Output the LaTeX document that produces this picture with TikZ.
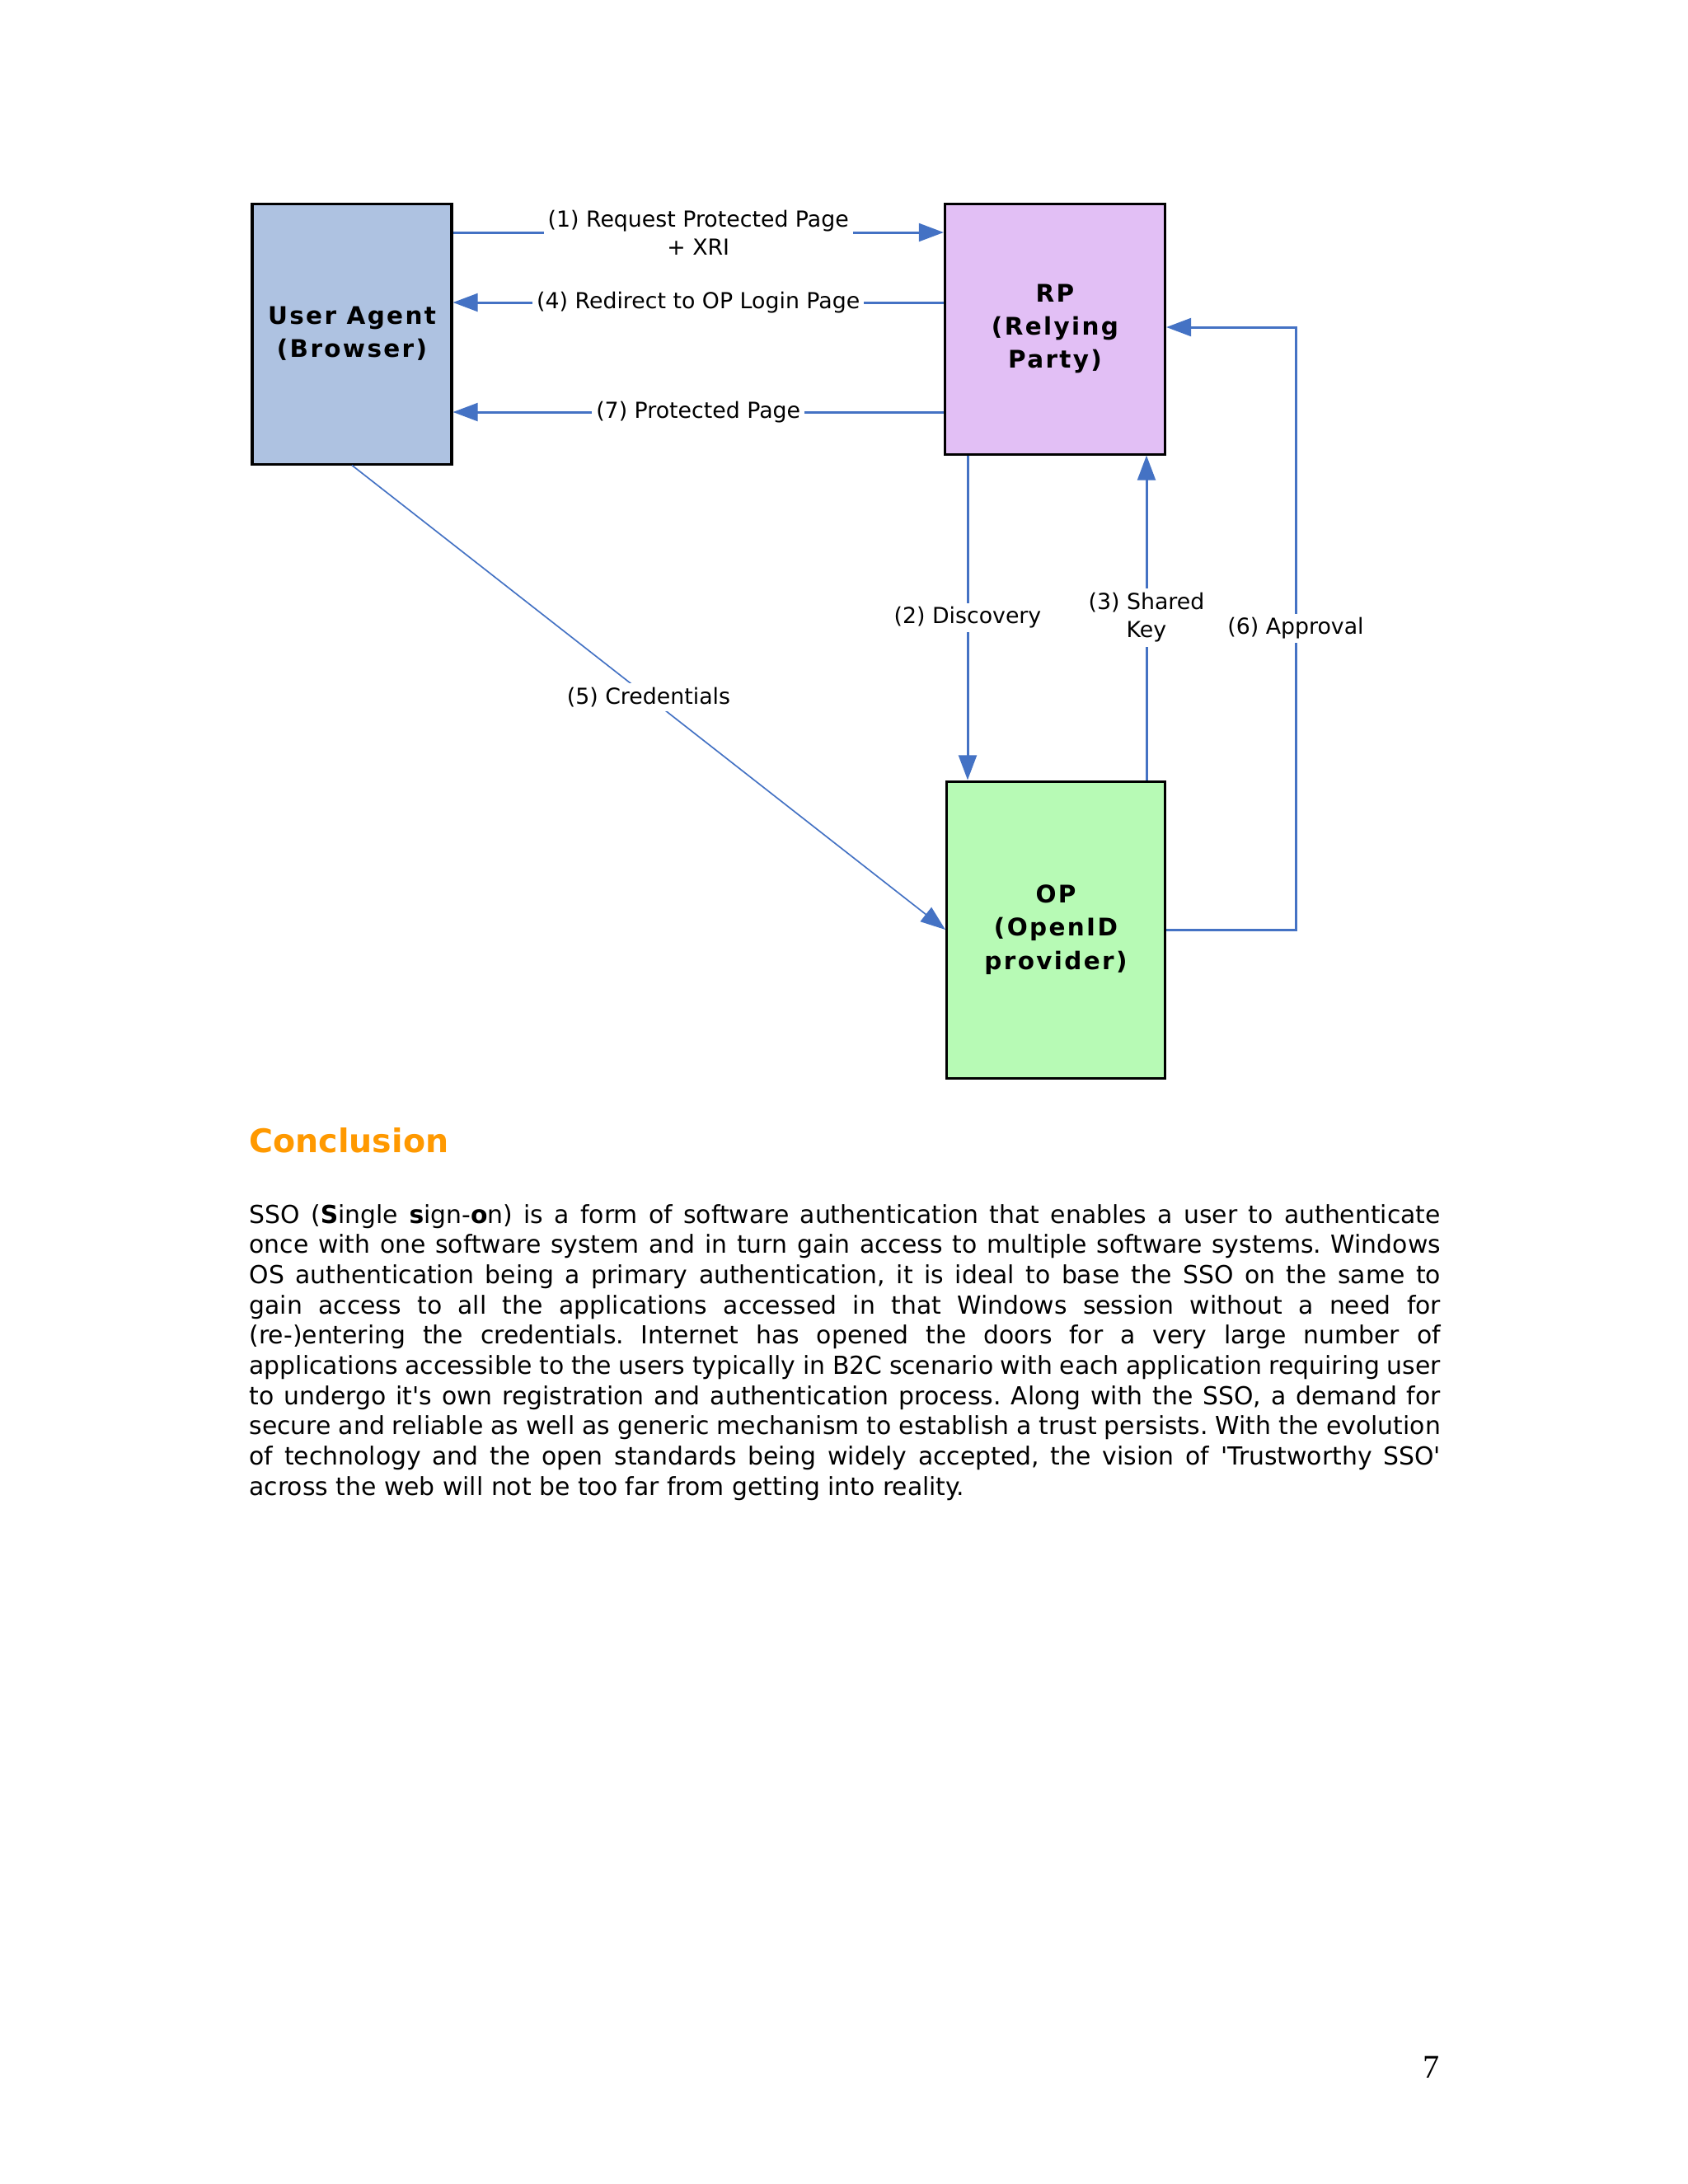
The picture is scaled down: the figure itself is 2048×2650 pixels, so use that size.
\documentclass[tikz,border=0pt]{standalone}
\usepackage{fontspec}
\setmainfont{DejaVu Sans}
\newfontfamily\boxfont{DejaVu Sans}[LetterSpace=8]
\newfontfamily\bodyfont{DejaVu Sans}[FakeStretch=0.99, Ligatures=TeXOff]
\newfontfamily\pagefont{Liberation Serif}
\usetikzlibrary{arrows.meta}

\definecolor{uablue}{RGB}{174,194,225}
\definecolor{rpviolet}{RGB}{226,191,245}
\definecolor{opgreen}{RGB}{183,250,181}
\definecolor{flowblue}{RGB}{68,114,196}
\definecolor{headorange}{RGB}{255,153,0}

\newcommand{\px}{0.2988pt}
\newcommand{\jline}[1]{\hbox to 431.8pt{#1}}

\begin{document}
\begin{tikzpicture}[x=0.2988pt, y=-0.2988pt,
    party/.style={draw=black, line width=0.9pt, align=center, inner sep=0pt,
        font=\boxfont\bfseries\fontsize{8.8}{12}\selectfont},
    flow/.style={draw=flowblue, line width=0.9pt, -{Triangle[length=9pt,width=6.5pt]}},
    lbl/.style={fill=white, text=black, align=center, inner sep=1.5pt,
        font=\fontsize{8}{10.2}\selectfont}]

    % page
    \fill[white] (0,0) rectangle (2048,2650);
    \useasboundingbox (0,0) rectangle (2048,2650);

    % --- the three parties ---
    \node[party, fill=uablue, minimum width=242*\px, minimum height=316*\px] (UA) at (427,405) {User Agent\\(Browser)};
    \node[party, fill=rpviolet, minimum width=267*\px, minimum height=304*\px] (RP) at (1280,399) {RP\\(Relying\\Party)};
    \node[party, fill=opgreen, minimum width=265*\px, minimum height=360*\px] (OP) at (1281,1128) {OP\\(OpenID\\provider)};

    % rows and columns of the connectors
    \coordinate (row1) at (0,282);
    \coordinate (row4) at (0,367);
    \coordinate (row7) at (0,500);
    \coordinate (rowA) at (0,397);
    \coordinate (colD) at (1174,0);
    \coordinate (colK) at (1391,0);
    \coordinate (colA) at (1572,0);

    % --- messages ---
    \draw[flow] (UA.east |- row1) -- node[lbl] {(1) Request Protected Page\\+ XRI} (RP.west |- row1);
    \draw[flow] (RP.west |- row4) -- node[lbl] {(4) Redirect to OP Login Page} (UA.east |- row4);
    \draw[flow] (RP.west |- row7) -- node[lbl] {(7) Protected Page} (UA.east |- row7);

    \draw[flow] (RP.south -| colD) -- node[lbl] {(2) Discovery} (OP.north -| colD);
    \draw[flow] (OP.north -| colK) -- node[lbl] {(3) Shared\\Key} (RP.south -| colK);
    \draw[flow] (OP.east) -- (OP.east -| colA) -- node[lbl] {(6) Approval} (colA |- rowA) -- (RP.east |- rowA);

    \draw[flow, line width=0.5pt] (UA.south) -- node[lbl] {(5) Credentials} (OP.west);

    % --- text of the page ---
    \node[anchor=west, inner sep=0pt, text=headorange, font=\bfseries\fontsize{11.8}{14}\selectfont] (head) at (302,1384) {Conclusion};

    \node[anchor=base west, inner sep=0pt, font=\bodyfont\fontsize{9}{10.96}\selectfont\frenchspacing] (body) at (302,1484) {\vtop{\baselineskip=10.96pt
        \jline{SSO ({\bfseries S}ingle {\bfseries s}ign-{\bfseries o}n) is a form of software authentication that enables a user to authenticate}
        \jline{once with one software system and in turn gain access to multiple software systems. Windows}
        \jline{OS authentication being a primary authentication, it is ideal to base the SSO on the same to}
        \jline{gain access to all the applications accessed in that Windows session without a need for}
        \jline{(re-)entering the credentials. Internet has opened the doors for a very large number of}
        \jline{applications accessible to the users typically in B2C scenario with each application requiring user}
        \jline{to undergo it's own registration and authentication process. Along with the SSO, a demand for}
        \jline{secure and reliable as well as generic mechanism to establish a trust persists. With the evolution}
        \jline{of technology and the open standards being widely accepted, the vision of 'Trustworthy SSO'}
        \hbox{across the web will not be too far from getting into reality.}}};

    \node[inner sep=0pt, font=\pagefont\fontsize{12}{14}\selectfont] (pnum) at (1737,2508) {7};

\end{tikzpicture}
\end{document}
